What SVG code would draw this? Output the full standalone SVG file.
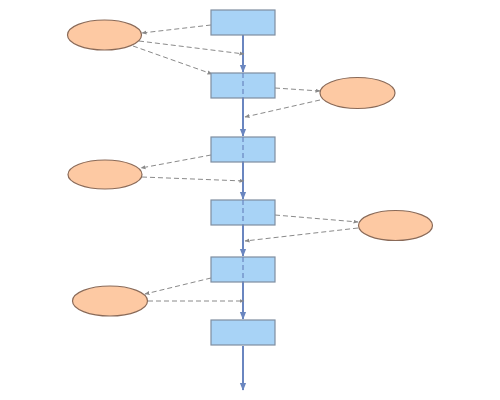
<svg xmlns="http://www.w3.org/2000/svg" width="500" height="400" viewBox="0 0 500 400">
<defs>
<style>
.box{fill:#a8d3f6;stroke:#7f8ea0;stroke-width:1.2}
.oval{fill:#fdc9a3;stroke:#8a6a58;stroke-width:1.2}
.main{stroke:#6a86c0;stroke-width:2;fill:none}
.inner{stroke:#6a86c0;stroke-width:1.2;stroke-dasharray:5 3;fill:none}
.dash{stroke:#8a8a8a;stroke-width:1;stroke-dasharray:5 3;fill:none}
</style>
<marker id="ah" viewBox="0 0 10 10" refX="9" refY="5" markerWidth="4" markerHeight="4" orient="auto"><path d="M0,1 L10,5 L0,9 z" fill="#6a86c0"/></marker>
<marker id="dh" viewBox="0 0 10 10" refX="9" refY="5" markerWidth="5" markerHeight="5" orient="auto"><path d="M0,1 L10,5 L0,9 z" fill="#8a8a8a"/></marker>
</defs>
<rect width="500" height="400" fill="#ffffff"/>
<g id="connectors">
<line class="main" x1="243" y1="35" x2="243" y2="72" marker-end="url(#ah)"/>
<line class="main" x1="243" y1="98" x2="243" y2="136" marker-end="url(#ah)"/>
<line class="main" x1="243" y1="162" x2="243" y2="199" marker-end="url(#ah)"/>
<line class="main" x1="243" y1="225" x2="243" y2="256" marker-end="url(#ah)"/>
<line class="main" x1="243" y1="282" x2="243" y2="319" marker-end="url(#ah)"/>
<line class="main" x1="243" y1="346" x2="243" y2="390" marker-end="url(#ah)"/>
<line class="dash" x1="211" y1="25" x2="142" y2="33" marker-end="url(#dh)"/>
<line class="dash" x1="139" y1="41" x2="244" y2="54" marker-end="url(#dh)"/>
<line class="dash" x1="133" y1="46" x2="212" y2="74" marker-end="url(#dh)"/>
<line class="dash" x1="275" y1="88" x2="320" y2="91" marker-end="url(#dh)"/>
<line class="dash" x1="320" y1="100" x2="245" y2="117" marker-end="url(#dh)"/>
<line class="dash" x1="211" y1="155" x2="141" y2="168" marker-end="url(#dh)"/>
<line class="dash" x1="142" y1="177" x2="244" y2="181" marker-end="url(#dh)"/>
<line class="dash" x1="275" y1="215" x2="358" y2="222" marker-end="url(#dh)"/>
<line class="dash" x1="358" y1="228" x2="245" y2="241" marker-end="url(#dh)"/>
<line class="dash" x1="211" y1="278" x2="145" y2="294" marker-end="url(#dh)"/>
<line class="dash" x1="148" y1="301" x2="244" y2="301" marker-end="url(#dh)"/>
</g>
<g id="n1"><rect class="box" x="211" y="10" width="64" height="25"/></g>
<g id="n2"><rect class="box" x="211" y="73" width="64" height="25"/><line class="inner" x1="243" y1="73" x2="243" y2="98"/></g>
<g id="n3"><rect class="box" x="211" y="137" width="64" height="25"/><line class="inner" x1="243" y1="137" x2="243" y2="162"/></g>
<g id="n4"><rect class="box" x="211" y="200" width="64" height="25"/><line class="inner" x1="243" y1="200" x2="243" y2="225"/></g>
<g id="n5"><rect class="box" x="211" y="257" width="64" height="25"/><line class="inner" x1="243" y1="257" x2="243" y2="282"/></g>
<g id="n6"><rect class="box" x="211" y="320" width="64" height="25"/></g>
<g id="e1"><ellipse class="oval" cx="104.5" cy="35" rx="37" ry="15"/></g>
<g id="e2"><ellipse class="oval" cx="357.5" cy="93" rx="37.5" ry="15.5"/></g>
<g id="e3"><ellipse class="oval" cx="105" cy="174.5" rx="37" ry="14.5"/></g>
<g id="e4"><ellipse class="oval" cx="395.5" cy="225.5" rx="37" ry="15"/></g>
<g id="e5"><ellipse class="oval" cx="110" cy="301" rx="37.5" ry="15"/></g>
</svg>
